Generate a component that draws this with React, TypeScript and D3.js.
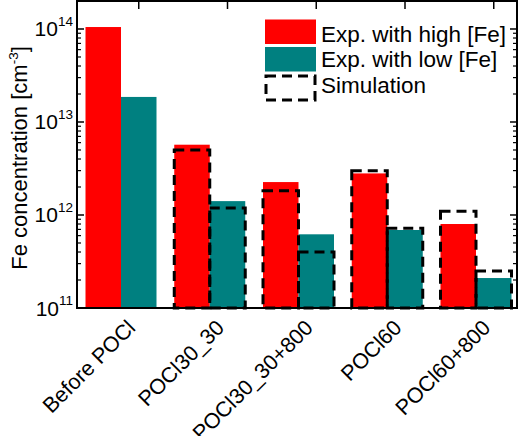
import * as d3 from "d3";

const categories = ["Before POCl", "POCl30_30", "POCl30_30+800", "POCl60", "POCl60+800"];
const highFe = [1.05e14, 5.7e12, 2.26e12, 2.8e12, 8.0e11];
const lowFe = [1.86e13, 1.41e12, 6.2e11, 6.9e11, 2.1e11];
const simHigh: (number | null)[] = [null, 5.0e12, 1.82e12, 3.0e12, 1.1e12];
const simLow: (number | null)[] = [null, 1.19e12, 4.0e11, 7.2e11, 2.5e11];
const yTickExps = [11, 12, 13, 14];
const legendItems = ["Exp. with high [Fe]", "Exp. with low [Fe]", "Simulation"];

const width = 520;
const height = 436;
const plot = { left: 77, right: 517, top: 1, bottom: 308 };
const font = "'Liberation Sans', Arial, sans-serif";
const RED = "#ff0000";
const TEAL = "#008080";

const App = () => {
  const x = d3.scaleLinear().domain([0, 4]).range([121, 476]);
  const y = d3.scaleLog().domain([1e11, 2e14]).range([plot.bottom, plot.top]);
  const barW = 0.4 * (x(1) - x(0));

  const minorTicks: number[] = [];
  for (let e = 11; e <= 14; e++) {
    for (let m = 2; m <= 9; m++) {
      const v = m * Math.pow(10, e);
      if (v <= 2e14) minorTicks.push(v);
    }
  }

  const dash = { fill: "none", stroke: "#000", strokeWidth: 3, strokeDasharray: "10,6" };

  return (
    <div style={{ position: "absolute", left: 0, top: 0 }}>
      <svg width={width} height={height} style={{ display: "block", background: "#fff" }} fontFamily={font}>
        {/* bars */}
        {categories.map((c, i) => (
          <g key={c}>
            <rect x={x(i) - barW} y={y(highFe[i])} width={barW} height={plot.bottom - y(highFe[i])} fill={RED} />
            <rect x={x(i)} y={y(lowFe[i])} width={barW} height={plot.bottom - y(lowFe[i])} fill={TEAL} />
          </g>
        ))}
        {/* simulation outlines */}
        {categories.map((c, i) => (
          <g key={"s" + c}>
            {simHigh[i] != null && (
              <rect x={x(i) - barW} y={y(simHigh[i] as number)} width={barW} height={plot.bottom - y(simHigh[i] as number)} {...dash} />
            )}
            {simLow[i] != null && (
              <rect x={x(i)} y={y(simLow[i] as number)} width={barW} height={plot.bottom - y(simLow[i] as number)} {...dash} />
            )}
          </g>
        ))}

        {/* frame */}
        <rect x={plot.left} y={plot.top} width={plot.right - plot.left} height={plot.bottom - plot.top} fill="none" stroke="#000" strokeWidth={2} />

        {/* left/right ticks */}
        {yTickExps.map((e) => (
          <g key={"t" + e}>
            <line x1={plot.left} x2={plot.left + 7} y1={y(Math.pow(10, e))} y2={y(Math.pow(10, e))} stroke="#000" strokeWidth={1.5} />
            <line x1={plot.right} x2={plot.right - 7} y1={y(Math.pow(10, e))} y2={y(Math.pow(10, e))} stroke="#000" strokeWidth={1.5} />
            <text x={73} y={y(Math.pow(10, e)) + 7.5} textAnchor="end" fontSize={21}>
              10
              <tspan fontSize={13.5} dy={-10.5}>{e}</tspan>
            </text>
          </g>
        ))}
        {minorTicks.map((v) => (
          <g key={"m" + v}>
            <line x1={plot.left} x2={plot.left + 4} y1={y(v)} y2={y(v)} stroke="#000" strokeWidth={1.2} />
            <line x1={plot.right} x2={plot.right - 4} y1={y(v)} y2={y(v)} stroke="#000" strokeWidth={1.2} />
          </g>
        ))}
        {/* top ticks */}
        {categories.map((c, i) => (
          <line key={"tt" + c} x1={x(i) + barW / 2} x2={x(i) + barW / 2} y1={plot.top} y2={plot.top + 8} stroke="#000" strokeWidth={1.5} />
        ))}

        {/* x labels */}
        {categories.map((c, i) => (
          <text
            key={"xl" + c}
            transform={`translate(${x(i) + barW / 2 - 2},329) rotate(-45)`}
            textAnchor="end"
            fontSize={21.5}
          >
            {c}
          </text>
        ))}

        {/* y title */}
        <text transform="translate(27,158) rotate(-90)" textAnchor="middle" fontSize={22}>
          Fe concentration [cm
          <tspan fontSize={13.5} dy={-9.5}>-3</tspan>
          <tspan dy={9.5}>]</tspan>
        </text>

        {/* legend */}
        <rect x={265} y={19.5} width={51} height={24.5} fill={RED} />
        <rect x={265} y={47} width={51} height={24.5} fill={TEAL} />
        <rect x={266} y={76} width={49} height={24} {...dash} />
        {legendItems.map((t, i) => (
          <text key={t} x={321} y={41.5 + i * 25.7} fontSize={22.5}>
            {t}
          </text>
        ))}
      </svg>
    </div>
  );
};

export default App;
